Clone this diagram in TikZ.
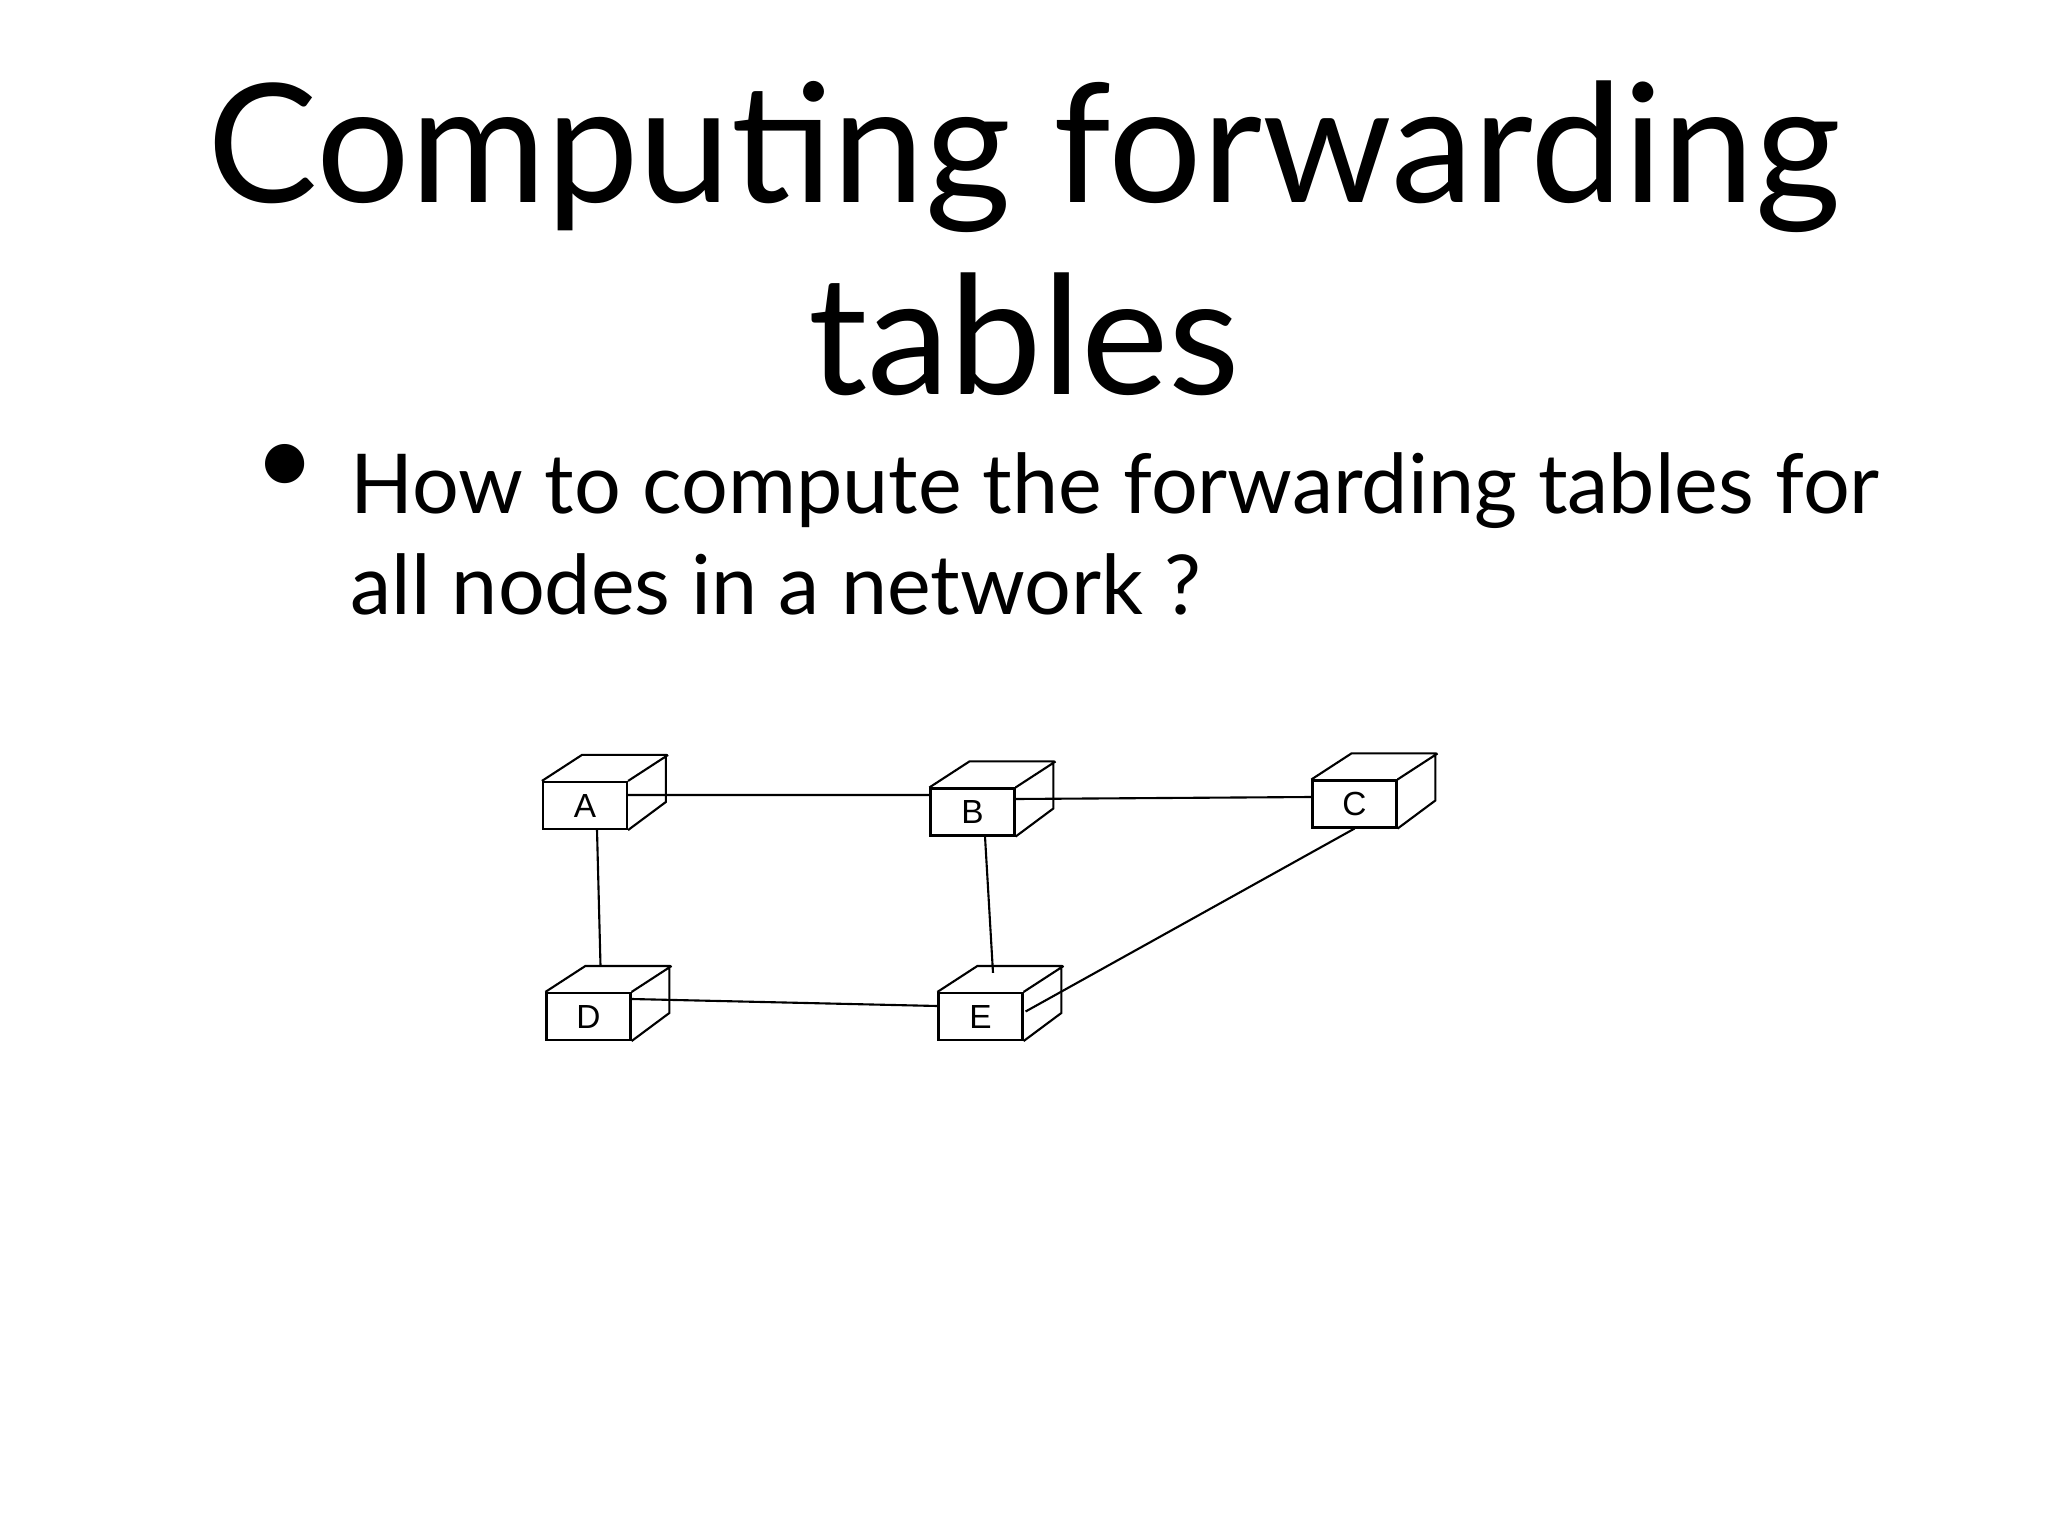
\documentclass[tikz,border=0pt]{standalone}
\usepackage{fontspec}
\setmainfont{Lato}
\newfontfamily\lblfont{Liberation Sans}
\begin{document}
\begin{tikzpicture}[x=0.01cm,y=-0.01cm,
  box/.style={draw,line width=0.6pt,minimum width=0.84cm,minimum height=0.47cm,inner sep=0pt,font=\lblfont\fontsize{9.5}{10}\selectfont},
  link/.style={line width=0.6pt}]
\useasboundingbox (0,0) rectangle (2048,1536);
\node[anchor=base,font=\fontsize{47}{50}\selectfont] (t1) at (1024,202) {Computing forwarding};
\node[anchor=base,font=\fontsize{47}{50}\selectfont] (t2) at (1024,394) {tables};
\node[font=\fontsize{30}{30}\selectfont] (bul) at (285,470) {•};
\node[anchor=base west,inner sep=0pt,font=\fontsize{23.5}{24}\selectfont] (l1) at (350,513) {How to compute the forwarding tables for};
\node[anchor=base west,inner sep=0pt,font=\fontsize{23.5}{24}\selectfont] (l2) at (350,614) {all nodes in a network ?};
\foreach \n/\x/\y in {A/585/805.5,B/972.5/812,C/1354.5/804,D/588.5/1016.5,E/980.5/1016.5}{
  \node[box] (\n) at (\x,\y) {\n};
  \draw[line width=0.6pt] (\n.north west) -- ++(40,-26) -- ++(84,0) -- ++(0,47) -- (\n.south east)
    (\n.north east) -- ++(40,-26);
}
\draw[link] ([yshift=0.105cm]A.east) -- ([yshift=0.17cm]B.west);
\draw[link] ([yshift=0.13cm]B.east) -- ([yshift=0.07cm]C.west);
\draw[link] ([xshift=0.12cm]A.south) -- ([shift={(0.12cm,0.26cm)}]D.north);
\draw[link] ([xshift=0.125cm]B.south) -- ([shift={(0.125cm,0.19cm)}]E.north);
\draw[link] (C.south) -- ([shift={(0.02cm,0.05cm)}]E.east);
\draw[link] ([yshift=0.175cm]D.east) -- ([yshift=0.105cm]E.west);
\end{tikzpicture}
\end{document}
